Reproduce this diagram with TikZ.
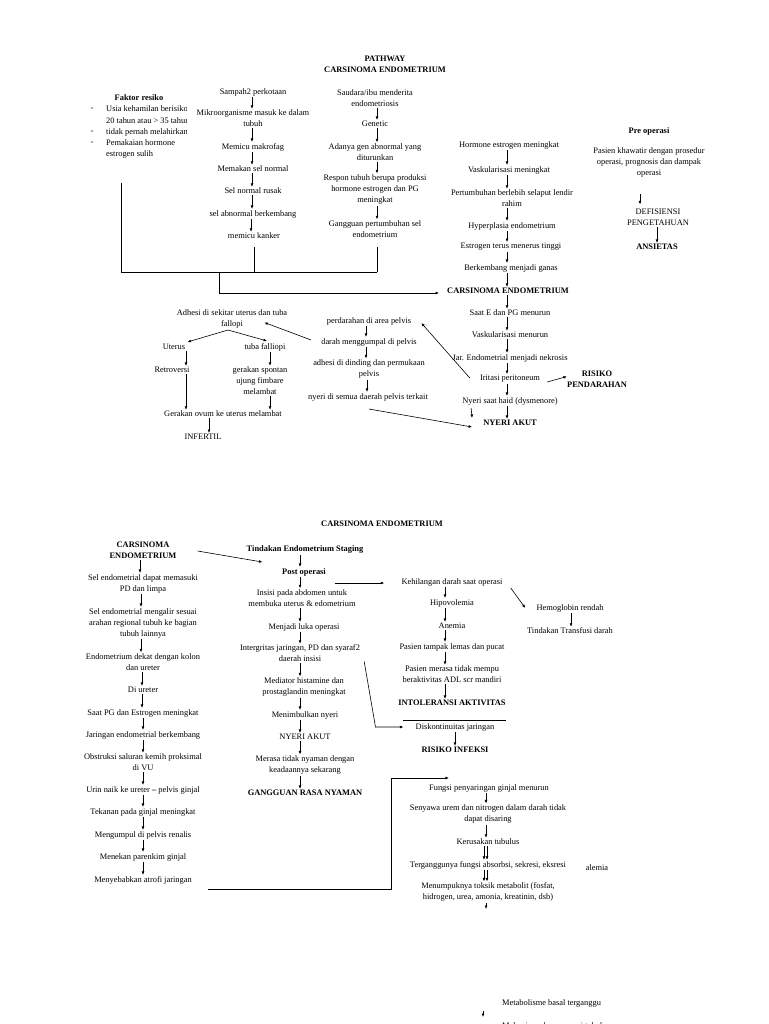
\documentclass[tikz,border=0pt]{standalone}
\usepackage{fontspec}
\setmainfont{Liberation Serif}
\usetikzlibrary{calc,arrows.meta}
\newcommand\fsz{\fontsize{8.4}{11}\selectfont}
\newcommand\vln[3]{\draw[arr] let \p1=($(#1.south)+(#3,0)$), \p2=(#2.north) in (\x1,\y1) -- (\x1,\y2);}
\tikzset{
  txt/.style={align=center, inner sep=1pt, font=\fsz},
  bt/.style={align=center, inner sep=1pt, font=\fsz\bfseries},
  arr/.style={-{Latex[length=3.5pt,width=2.8pt]}, line width=0.6pt},
  ln/.style={line width=0.6pt},
}
\begin{document}
\begin{tikzpicture}[x=1pt,y=-1pt]
\path[clip] (0,0) rectangle (768,1024);
\fill[white] (0,0) rectangle (768,1024);

% ---------- title
\node[bt] (title) at (385,64.5) {PATHWAY\\CARSINOMA ENDOMETRIUM};

% ---------- faktor resiko
\node[bt] (fk) at (139,98) {Faktor resiko};
\begin{scope}
\clip (80,100) rectangle (186,162);
\node[txt] (fd1) at (92,109) {-};
\node[txt,anchor=west] (fr1) at (105,109) {Usia kehamilan berisiko <};
\node[txt,anchor=west] (fr2) at (105,121) {20 tahun atau > 35 tahun};
\node[txt] (fd2) at (92,132) {-};
\node[txt,anchor=west] (fr3) at (105,132) {tidak pernah melahirkan};
\node[txt] (fd3) at (92,143) {-};
\node[txt,anchor=west] (fr4) at (105,143) {Pemakaian hormone};
\node[txt,anchor=west] (fr5) at (105,154) {estrogen sulih};
\end{scope}

% ---------- column m
\node[txt] (m1) at (253,92) {Sampah2 perkotaan};
\node[txt] (m2) at (253,118.5) {Mikroorganisme masuk ke dalam\\tubuh};
\node[txt] (m3) at (253,147) {Memicu makrofag};
\node[txt] (m4) at (253,169) {Memakan sel normal};
\node[txt] (m5) at (253,191) {Sel normal rusak};
\node[txt] (m6) at (253,214) {sel abnormal berkembang};
\node[txt] (m7) at (254,236) {memicu kanker};
\vln{m1}{m2}{-1}
\vln{m2}{m3}{-1}
\vln{m3}{m4}{-1}
\vln{m4}{m5}{-1}
\vln{m5}{m6}{-1}
\vln{m6}{m7}{-2}

% ---------- column g
\node[txt] (g1) at (375,98) {Saudara/ibu menderita\\endometriosis};
\node[txt] (g2) at (375,124) {Genetic};
\node[txt] (g3) at (375,152) {Adanya gen abnormal yang\\diturunkan};
\node[txt] (g4) at (375,189.5) {Respon tubuh berupa produksi\\hormone estrogen dan PG\\meningkat};
\node[txt] (g5) at (375,229) {Gangguan pertumbuhan sel\\endometrium};
\vln{g1}{g2}{2}
\vln{g2}{g3}{2}
\vln{g3}{g4}{2}
\vln{g4}{g5}{2}

% ---------- column h
\node[txt] (h1) at (509,145) {Hormone estrogen meningkat};
\node[txt] (h2) at (509,170) {Vaskularisasi meningkat};
\node[txt] (h3) at (512,198.5) {Pertumbuhan berlebih selaput lendir\\rahim};
\node[txt] (h4) at (512,226) {Hyperplasia endometrium};
\node[txt] (h5) at (511,247) {Estrogen terus menerus tinggi};
\node[txt] (h6) at (511,268) {Berkembang menjadi ganas};
\node[bt] (ce1) at (508,291) {CARSINOMA ENDOMETRIUM};
\vln{h1}{h2}{-2}
\vln{h2}{h3}{-2}
\vln{h3}{h4}{-5}
\vln{h4}{h5}{-5}
\vln{h5}{h6}{-4}
\vln{h6}{ce1}{-4}

% ---------- joins
\coordinate (fkl) at (121,183);
\coordinate (jn) at (219,272);
\coordinate (jr) at (377,272);
\draw[ln] (fkl) |- (jr);
\draw[ln] (jr) -- ($(g5.south)+(2,8)$);
\draw[ln] ($(m7.south)+(0,7)$) -- (m7.south |- jn);
\draw[arr] (jn) |- ($(ce1.west)+(-7,2)$);

% ---------- pre operasi
\node[bt] (p0) at (649,131) {Pre operasi};
\node[txt] (p1) at (649,162) {Pasien khawatir dengan prosedur\\operasi, prognosis dan dampak\\operasi};
\node[txt] (p2) at (658,217) {DEFISIENSI\\PENGETAHUAN};
\node[bt] (p3) at (657,247) {ANSIETAS};
\draw[arr] ($(p1.south)+(-9,16)$) -- ($(p2.north)+(-18,-3)$);
\vln{p2}{p3}{-1}

% ---------- right chain after carsinoma
\node[txt] (s1) at (510,313) {Saat E dan PG menurun};
\node[txt] (s2) at (510,335) {Vaskularisasi menurun};
\node[txt] (s3) at (510,358) {Jar. Endometrial menjadi nekrosis};
\node[txt] (s4) at (510,379) {Iritasi peritoneum};
\node[txt] (s5) at (510,401) {Nyeri saat haid (dysmenore)};
\node[bt] (na) at (510,423) {NYERI AKUT};
\node[bt] (rp) at (597,379.5) {RISIKO\\PENDARAHAN};
\vln{ce1}{s1}{-1}
\vln{s1}{s2}{-3}
\vln{s2}{s3}{-3}
\vln{s3}{s4}{-3}
\vln{s4}{s5}{-3}
\vln{s5}{na}{-3}
\draw[arr] ($(s4.east)+(6,3)$) -- ($(rp.west)+(1,-3)$);

% ---------- pelvis chain
\node[txt] (d1) at (369,321) {perdarahan di area pelvis};
\node[txt] (d2) at (369,342) {darah menggumpal di pelvis};
\node[txt] (d3) at (369,369) {adhesi di dinding dan permukaan\\pelvis};
\node[txt] (d4) at (368,397) {nyeri di semua daerah pelvis terkait};
\vln{d1}{d2}{-3}
\vln{d2}{d3}{-3}
\vln{d3}{d4}{-2}
\draw[arr] ($(s4.west)+(-9,-1)$) -- ($(d1.east)+(9,2)$);
\draw[arr] ($(d4.south)+(1,7)$) -- ($(na.west)+(-10,4)$);
\draw[arr] ($(s5.south west)+(10,2)$) -- ($(na.north west)+(-10,-1)$);

% ---------- adhesi
\node[txt] (a1) at (232,318.5) {Adhesi di sekitar uterus dan tuba\\fallopi};
\node[txt] (u1) at (174,347) {Uterus};
\node[txt] (t1) at (265,347) {tuba falliopi};
\node[txt] (u2) at (172,370) {Retroversi};
\node[txt] (t2) at (260,381) {gerakan spontan\\ujung fimbare\\melambat};
\node[txt] (go) at (223,414) {Gerakan ovum ke uterus melambat};
\node[txt] (inf) at (203,437) {INFERTIL};
\draw[arr] ($(d2.west)+(-9,-2)$) -- ($(a1.east)+(-24,4)$);
\draw[arr] ($(a1.south)+(-4,1)$) -- ($(u1.north east)+(1,-1)$);
\draw[arr] ($(a1.south)+(-4,1)$) -- ($(t1.north)+(2,-1)$);
\vln{u1}{u2}{12}
\vln{u2}{go}{14}
\vln{t1}{t2}{5}
\vln{t2}{go}{10}
\vln{go}{inf}{-14}

% =============== second part
\node[bt] (ce3) at (382,524) {CARSINOMA ENDOMETRIUM};

\node[bt] (ce4) at (143,550) {CARSINOMA\\ENDOMETRIUM};
\node[txt] (l1) at (143,583.5) {Sel endometrial dapat memasuki\\PD dan limpa};
\node[txt] (l2) at (143,623) {Sel endometrial mengalir sesuai\\arahan regional tubuh ke bagian\\tubuh lainnya};
\node[txt] (l3) at (143,662) {Endometrium dekat dengan kolon\\dan ureter};
\node[txt] (l4) at (143,690) {Di ureter};
\node[txt] (l5) at (143,713) {Saat PG dan Estrogen meningkat};
\node[txt] (l6) at (143,735) {Jaringan endometrial berkembang};
\node[txt] (l7) at (143,762.5) {Obstruksi saluran kemih proksimal\\di VU};
\node[txt] (l8) at (143,790) {Urin naik ke ureter \textbf{–} pelvis ginjal};
\node[txt] (l9) at (143,812) {Tekanan pada ginjal meningkat};
\node[txt] (l10) at (143,835) {Mengumpul di pelvis renalis};
\node[txt] (l11) at (143,857) {Menekan parenkim ginjal};
\node[txt] (l12) at (143,880) {Menyebabkan atrofi jaringan};
\vln{ce4}{l1}{-3}
\vln{l1}{l2}{-2}
\vln{l2}{l3}{-2}
\vln{l3}{l4}{-1}
\vln{l4}{l5}{-1}
\vln{l5}{l6}{0}
\vln{l6}{l7}{0}
\vln{l7}{l8}{0}
\vln{l8}{l9}{0}
\vln{l9}{l10}{0}
\vln{l10}{l11}{0}
\vln{l11}{l12}{0}

% middle column
\node[bt] (tk) at (305,550) {Tindakan Endometrium Staging};
\node[bt] (po) at (304,572) {Post operasi};
\node[txt] (b1) at (302,598) {Insisi pada abdomen untuk\\membuka uterus \& edometrium};
\node[txt] (b2) at (304,627) {Menjadi luka operasi};
\node[txt] (b3) at (300,653.5) {Intergritas jaringan, PD dan syaraf2\\daerah insisi};
\node[txt] (b4) at (304,687) {Mediator histamine dan\\prostaglandin meningkat};
\node[txt] (b5) at (305,715) {Menimbulkan nyeri};
\node[txt] (b6) at (305,737) {NYERI AKUT};
\node[txt] (b7) at (305,765) {Merasa tidak nyaman dengan\\keadaannya sekarang};
\node[bt] (b8) at (305,793) {GANGGUAN RASA NYAMAN};
\draw[arr] ($(ce4.east)+(20,1)$) -- ($(tk.south west)+(17,7)$);
\vln{tk}{po}{-5}
\vln{po}{b1}{-4}
\vln{b1}{b2}{-2}
\vln{b2}{b3}{-4}
\vln{b3}{b4}{0}
\vln{b4}{b5}{-4}
\vln{b5}{b6}{-5}
\vln{b6}{b7}{-5}
\vln{b7}{b8}{-5}

% right column
\node[txt] (k1) at (452,582) {Kehilangan darah saat operasi};
\node[txt] (k2) at (452,603) {Hipovolemia};
\node[txt] (k3) at (452,626) {Anemia};
\node[txt] (k4) at (452,647) {Pasien tampak lemas dan pucat};
\node[txt] (k5) at (452,674.5) {Pasien merasa tidak mempu\\beraktivitas ADL scr mandiri};
\node[bt] (k6) at (452,703) {INTOLERANSI AKTIVITAS};
\node[txt] (dk) at (455,727) {Diskontinuitas jaringan};
\node[bt] (ri) at (455,750) {RISIKO INFEKSI};
\node[txt] (hb) at (570,608) {Hemoglobin rendah};
\node[txt] (tr) at (570,631) {Tindakan Transfusi darah};
\draw[arr] ($(po.east)+(8,11)$) -- ($(k1.west)+(-16,1)$);
\vln{k1}{k2}{-7}
\vln{k2}{k3}{-7}
\vln{k3}{k4}{-7}
\vln{k4}{k5}{-7}
\vln{k5}{k6}{-7}
\vln{dk}{ri}{0}
\draw[arr] ($(k1.east)+(7,6)$) -- ($(hb.west)+(-10,0)$);
\vln{hb}{tr}{1}
\draw[arr] ($(b3.east)+(3,8)$) -- ($(dk.west)+(-39,0)$) -- ($(dk.west)+(-11,0)$);
\draw[ln] ($(dk.north west)+(-11,-2)$) -- ($(dk.north east)+(10,-2)$);

% kidney chain
\node[txt] (f1) at (489,788) {Fungsi penyaringan ginjal menurun};
\node[txt] (f2) at (488,814) {Senyawa urem dan nitrogen dalam darah tidak\\dapat disaring};
\node[txt] (f3) at (488,842) {Kerusakan tubulus};
\node[txt] (f4) at (488,865) {Terganggunya fungsi absorbsi, sekresi, eksresi};
\node[txt] (f5) at (488,892) {Menumpuknya toksik metabolit (fosfat,\\hidrogen, urea, amonia, kreatinin, dsb)};
\node[txt] (al) at (597,868) {alemia};
\coordinate (lc) at (391,889);
\draw[arr] ($(l12.east)+(15,9)$) -- (lc) |- ($(f1.north west)+(21,-5)$);
\vln{f1}{f2}{-3}
\vln{f2}{f3}{-2}
\vln{f3}{f4}{-4}
\vln{f3}{f4}{-1}
\vln{f4}{f5}{-4}
\vln{f4}{f5}{-1}
\coordinate (fend) at (486,909);
\draw[arr] ($(f5.south)+(-2,0)$) -- (fend);

\node[txt,anchor=west] (mb) at (501,1003) {Metabolisme basal terganggu};
\node[txt,anchor=west] (mk) at (501,1026) {Mekanisme kompensasi tubuh};
\draw[arr] ($(mb.south west)+(-18,3)$) -- ($(mk.north west)+(-18,-4)$);
\end{tikzpicture}
\end{document}
